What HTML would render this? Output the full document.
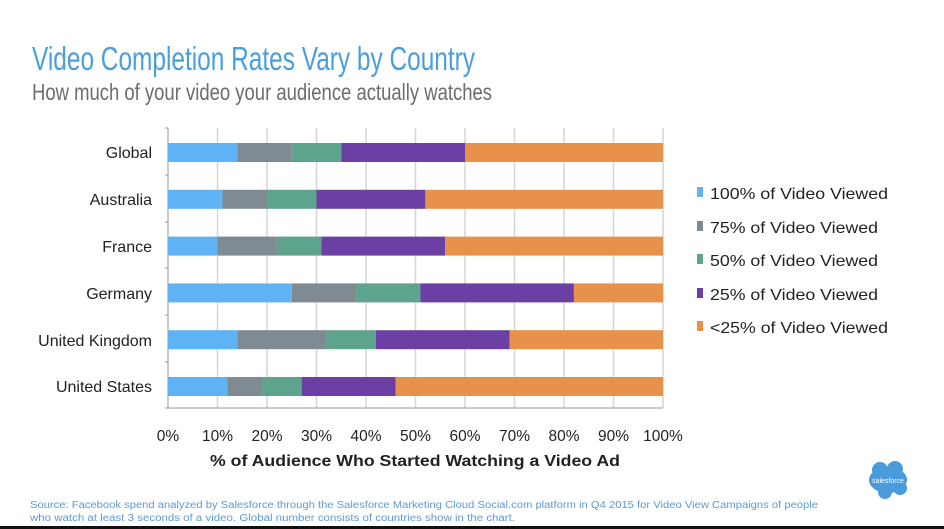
<!DOCTYPE html>
<html><head><meta charset="utf-8"><style>
body{margin:0;background:#fff;}
svg{display:block;font-family:"Liberation Sans",sans-serif;}
</style></head><body>
<svg width="944" height="529" viewBox="0 0 944 529" xmlns="http://www.w3.org/2000/svg">
<rect width="944" height="529" fill="#fff"/>
<text x="32" y="70" font-size="33" fill="#4a9ee0" textLength="443" lengthAdjust="spacingAndGlyphs">Video Completion Rates Vary by Country</text>
<text x="32" y="100" font-size="23" fill="#6d6d6d" textLength="460" lengthAdjust="spacingAndGlyphs">How much of your video your audience actually watches</text>
<g stroke="#d6d6d6" stroke-width="1.5">
<line x1="217.5" y1="128" x2="217.5" y2="408"/><line x1="267" y1="128" x2="267" y2="408"/>
<line x1="316.5" y1="128" x2="316.5" y2="408"/><line x1="366" y1="128" x2="366" y2="408"/>
<line x1="415.5" y1="128" x2="415.5" y2="408"/><line x1="465" y1="128" x2="465" y2="408"/>
<line x1="514.5" y1="128" x2="514.5" y2="408"/><line x1="564" y1="128" x2="564" y2="408"/>
<line x1="613.5" y1="128" x2="613.5" y2="408"/><line x1="663" y1="128" x2="663" y2="408"/>
</g>
<g stroke="#999" stroke-width="1">
<line x1="168" y1="128" x2="168" y2="408"/><line x1="168" y1="408" x2="663" y2="408"/>
<line x1="165" y1="128" x2="168" y2="128"/><line x1="165" y1="175" x2="168" y2="175"/><line x1="165" y1="222" x2="168" y2="222"/><line x1="165" y1="268" x2="168" y2="268"/><line x1="165" y1="315" x2="168" y2="315"/><line x1="165" y1="362" x2="168" y2="362"/><line x1="165" y1="408" x2="168" y2="408"/>
</g>
<g>
<rect x="168" y="143" width="69.3" height="19" fill="#5fb3f5"/>
<rect x="237.3" y="143" width="54.45" height="19" fill="#808a92"/>
<rect x="291.75" y="143" width="49.5" height="19" fill="#5ea38e"/>
<rect x="341.25" y="143" width="123.75" height="19" fill="#6b3fa3"/>
<rect x="465" y="143" width="198" height="19" fill="#e8914a"/>

<rect x="168" y="189.8" width="54.45" height="19" fill="#5fb3f5"/>
<rect x="222.45" y="189.8" width="44.55" height="19" fill="#808a92"/>
<rect x="267" y="189.8" width="49.5" height="19" fill="#5ea38e"/>
<rect x="316.5" y="189.8" width="108.9" height="19" fill="#6b3fa3"/>
<rect x="425.4" y="189.8" width="237.6" height="19" fill="#e8914a"/>

<rect x="168" y="236.6" width="49.5" height="19" fill="#5fb3f5"/>
<rect x="217.5" y="236.6" width="59.4" height="19" fill="#808a92"/>
<rect x="276.9" y="236.6" width="44.55" height="19" fill="#5ea38e"/>
<rect x="321.45" y="236.6" width="123.75" height="19" fill="#6b3fa3"/>
<rect x="445.2" y="236.6" width="217.8" height="19" fill="#e8914a"/>

<rect x="168" y="283.4" width="123.75" height="19" fill="#5fb3f5"/>
<rect x="291.75" y="283.4" width="64.35" height="19" fill="#808a92"/>
<rect x="356.1" y="283.4" width="64.35" height="19" fill="#5ea38e"/>
<rect x="420.45" y="283.4" width="153.45" height="19" fill="#6b3fa3"/>
<rect x="573.9" y="283.4" width="89.1" height="19" fill="#e8914a"/>

<rect x="168" y="330.2" width="69.3" height="19" fill="#5fb3f5"/>
<rect x="237.3" y="330.2" width="89.1" height="19" fill="#808a92"/>
<rect x="326.4" y="330.2" width="49.5" height="19" fill="#5ea38e"/>
<rect x="375.9" y="330.2" width="133.65" height="19" fill="#6b3fa3"/>
<rect x="509.55" y="330.2" width="153.45" height="19" fill="#e8914a"/>

<rect x="168" y="377" width="59.4" height="19" fill="#5fb3f5"/>
<rect x="227.4" y="377" width="34.65" height="19" fill="#808a92"/>
<rect x="262.05" y="377" width="39.6" height="19" fill="#5ea38e"/>
<rect x="301.65" y="377" width="94.05" height="19" fill="#6b3fa3"/>
<rect x="395.7" y="377" width="267.3" height="19" fill="#e8914a"/>
</g>
<g font-size="16" fill="#222" text-anchor="end">
<text x="152" y="158">Global</text><text x="152" y="205">Australia</text><text x="152" y="252">France</text>
<text x="152" y="299">Germany</text><text x="152" y="346">United Kingdom</text><text x="152" y="392">United States</text>
</g>
<g font-size="15.5" fill="#222" text-anchor="middle">
<text x="168" y="441">0%</text><text x="217.5" y="441">10%</text><text x="267" y="441">20%</text><text x="316.5" y="441">30%</text>
<text x="366" y="441">40%</text><text x="415.5" y="441">50%</text><text x="465" y="441">60%</text><text x="514.5" y="441">70%</text>
<text x="564" y="441">80%</text><text x="613.5" y="441">90%</text><text x="663" y="441">100%</text>
</g>
<text x="415" y="466" font-size="15.5" font-weight="bold" fill="#222" text-anchor="middle" textLength="410" lengthAdjust="spacingAndGlyphs">% of Audience Who Started Watching a Video Ad</text>
<g font-size="16" fill="#222">
<rect x="697" y="187" width="6" height="10" fill="#5fb3f5"/><text x="710" y="199" textLength="178" lengthAdjust="spacingAndGlyphs">100% of Video Viewed</text>
<rect x="697" y="221" width="6" height="10" fill="#808a92"/><text x="710" y="233" textLength="168" lengthAdjust="spacingAndGlyphs">75% of Video Viewed</text>
<rect x="697" y="254" width="6" height="10" fill="#5ea38e"/><text x="710" y="266" textLength="168" lengthAdjust="spacingAndGlyphs">50% of Video Viewed</text>
<rect x="697" y="288" width="6" height="10" fill="#6b3fa3"/><text x="710" y="300" textLength="168" lengthAdjust="spacingAndGlyphs">25% of Video Viewed</text>
<rect x="697" y="321" width="6" height="10" fill="#e8914a"/><text x="710" y="333" textLength="178" lengthAdjust="spacingAndGlyphs">&lt;25% of Video Viewed</text>
</g>
<g font-size="10" fill="#5b9bd5">
<text x="30" y="508" textLength="788" lengthAdjust="spacingAndGlyphs">Source: Facebook spend analyzed by Salesforce through the Salesforce Marketing Cloud Social.com platform in Q4 2015 for Video View Campaigns of people</text>
<text x="30" y="521" textLength="485" lengthAdjust="spacingAndGlyphs">who watch at least 3 seconds of a video.  Global number consists of countries show in the chart.</text>
</g>
<g fill="#4a9bdc">
<ellipse cx="888" cy="480" rx="19" ry="13"/><circle cx="880" cy="470" r="8"/><circle cx="895" cy="469" r="8"/><circle cx="885" cy="492" r="7"/><circle cx="900" cy="488" r="7"/>
</g>
<text x="888" y="483" font-size="7" fill="#fff" text-anchor="middle">salesforce</text>
<rect x="0" y="526" width="944" height="3" fill="#111"/>
</svg>
</body></html>
